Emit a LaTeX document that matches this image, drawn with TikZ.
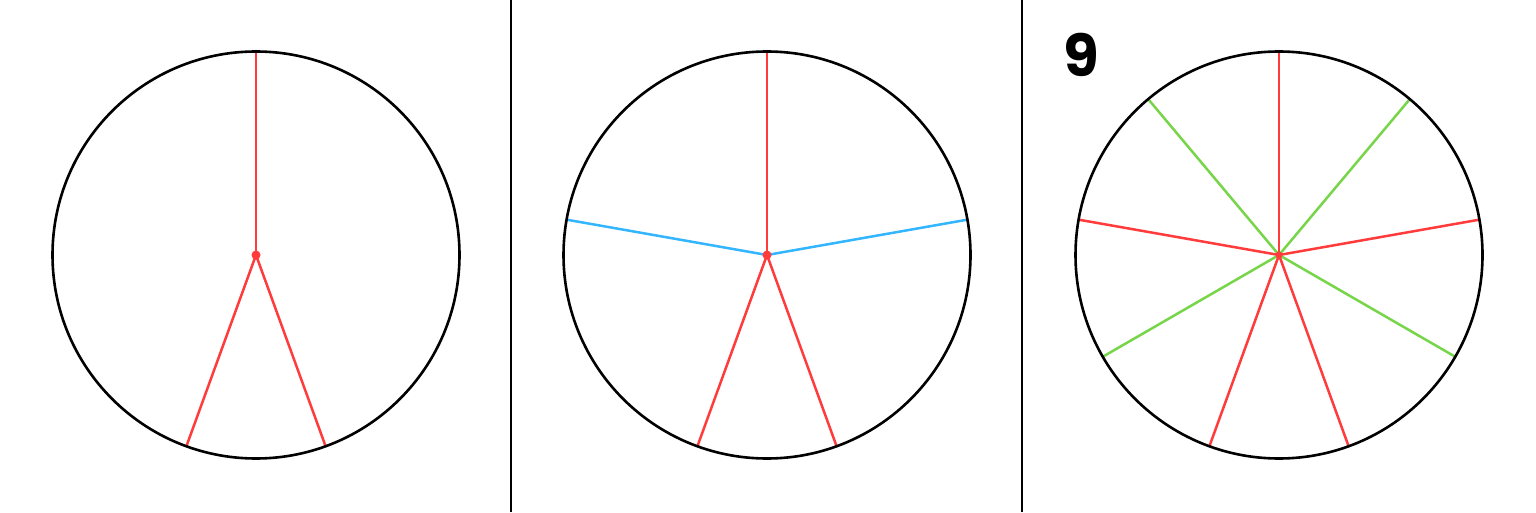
\documentclass[tikz,border=0pt]{standalone}
\usepackage{fontspec}
\setmainfont{Poppins}
\definecolor{spokered}{HTML}{FF3B3B}
\definecolor{spokeblue}{HTML}{33B5FF}
\definecolor{spokegreen}{HTML}{77D54A}
\begin{document}
\begin{tikzpicture}[x=1pt, y=1pt,
   rim/.style={line width=2.6pt},
   spoke/.style={line width=2.5pt},
   hub/.style={fill=spokered}]
   \useasboundingbox (0,0) rectangle (1536,512);
   % panel dividers
   \draw[line width=1.6pt] (511,0) -- (511,512);
   \draw[line width=1.6pt] (1022,0) -- (1022,512);
   \coordinate (c1) at (256,257);
   \coordinate (c2) at (767,257);
   \coordinate (c3) at (1279,257);
   % first wheel
   \foreach \a in {90,250,290} \draw[spoke,spokered] (c1) -- ++(\a:203.5);
   \draw[rim] (c1) circle (203.5);
   \fill[hub] (c1) circle (4.5);
   % second wheel
   \foreach \a in {10,170} \draw[spoke,spokeblue] (c2) -- ++(\a:203.5);
   \foreach \a in {90,250,290} \draw[spoke,spokered] (c2) -- ++(\a:203.5);
   \draw[rim] (c2) circle (203.5);
   \fill[hub] (c2) circle (4.5);
   % third wheel
   \foreach \a in {50,130,210,330} \draw[spoke,spokegreen] (c3) -- ++(\a:203.5);
   \foreach \a in {10,90,170,250,290} \draw[spoke,spokered] (c3) -- ++(\a:203.5);
   \draw[rim] (c3) circle (203.5);
   \fill[hub] (c3) circle (3.5);
   \node[font=\fontsize{58}{58}\selectfont\bfseries] (count) at (1081,457) {9};
\end{tikzpicture}
\end{document}
